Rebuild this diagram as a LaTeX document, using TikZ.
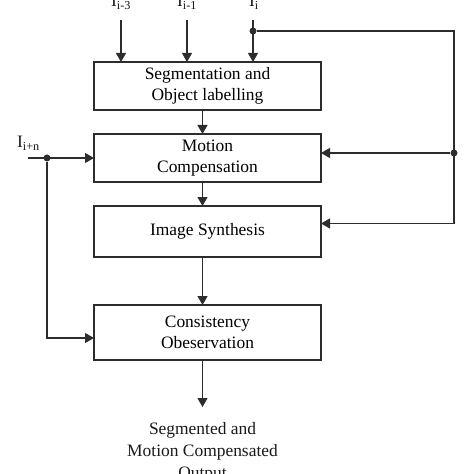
\documentclass[tikz,border=0pt]{standalone}
\usepackage{fontspec}
\setmainfont{Liberation Serif}
\usetikzlibrary{arrows.meta, positioning}
\definecolor{linegray}{RGB}{45,45,45}

\begin{document}
\begin{tikzpicture}[x=1bp, y=-1bp,
        block/.style={rectangle, draw=linegray, line width=1.2bp, outer sep=0pt, align=center, minimum width=227bp, minimum height=48bp, font=\fontsize{17.5}{20.5}\selectfont},
        signal/.style={font=\fontsize{17.5}{22}\selectfont, inner sep=2bp, text=black!90},
        arrow/.style={-{Triangle[length=9bp, width=10bp]}, line width=1.2bp, linegray},
        wire/.style={line width=1.2bp, linegray},
        junction/.style={circle, fill=linegray, inner sep=0pt, minimum size=7bp},
        node distance=24bp
        ]
        \useasboundingbox (0,0) rectangle (474,474);

        % Blocks
        \node (seg) [block] at (207.5,86) {Segmentation and\\Object labelling};
        \node (motion) [block, below=of seg] {Motion\\Compensation};
        \node (synth) [block, below=of motion, minimum height=51bp] {Image Synthesis};
        \node (consist) [block, below=48bp of synth, minimum height=55bp] {Consistency\\Obeservation};
        \node (output) [signal, below=60bp of consist, xshift=-5bp, align=center] {Segmented and\\Motion Compensated\\Output};

        % Inputs
        \node (in3) [signal, anchor=base] at (121,6.5) {I\textsubscript{i-3}};
        \node (in1) [signal, anchor=base] at (187,6.5) {I\textsubscript{i-1}};
        \node (in0) [signal, anchor=base] at (254,6.5) {I\textsubscript{i}};
        \node (inn) [signal, anchor=base] at (28.5,148) {I\textsubscript{i+n}};
        \coordinate (innstart) at (28,158);
        \coordinate (corner) at (454,31);

        % Junctions
        \node (tapA) [junction] at (253,31) {};
        \node (tapB) [junction] at (454,153) {};
        \node (tapC) [junction] at (47,158) {};

        % Arrows
        \draw [arrow, shorten <=9bp] (in3) -- (in3 |- seg.north);
        \draw [arrow, shorten <=9bp] (in1) -- (in1 |- seg.north);
        \draw [arrow, shorten <=9bp] (in0.south -| tapA) -- (tapA |- seg.north);
        \draw [arrow] ([xshift=-5bp]seg.south) -- ([xshift=-5bp]motion.north);
        \draw [arrow] ([xshift=-5bp]motion.south) -- ([xshift=-5bp]synth.north);
        \draw [arrow] ([xshift=-5bp]synth.south) -- ([xshift=-5bp]consist.north);
        \draw [arrow, shorten >=13bp] ([xshift=-5bp]consist.south) -- (output.north);
        \draw [arrow] (tapA) -- (corner) -- ([yshift=8bp]synth.east -| corner) -- ([yshift=8bp]synth.east);
        \draw [arrow] (tapB) -- (tapB -| motion.east);
        \draw [arrow] (innstart) -- (innstart -| motion.west);
        \draw [arrow] (tapC) |- ([yshift=-5.5bp]consist.west);

\end{tikzpicture}
\end{document}
